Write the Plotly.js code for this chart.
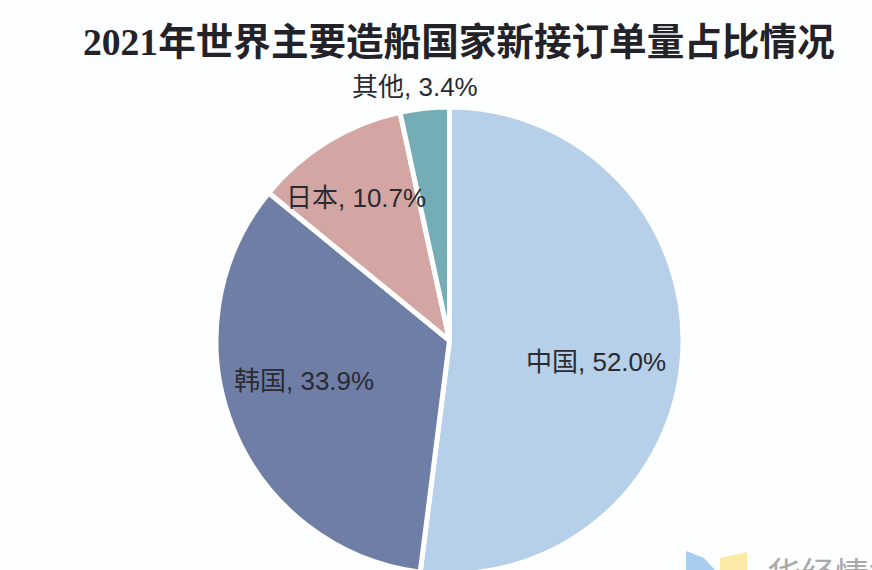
<!DOCTYPE html>
<html><head><meta charset="utf-8">
<script src="https://cdn.plot.ly/plotly-3.0.1.min.js"></script>
<style>html,body{margin:0;padding:0;width:872px;height:570px;overflow:hidden;background:#fdfeff}</style>
</head><body><div id="c"></div>
<script>
const categories=["中国","韩国","日本","其他"];
const shares=[52.0,33.9,10.7,3.4];
const colors=["#b5d0e8","#6e7ea6","#d3a6a3","#74adb5"];
const labelX=[596,303.5,356,414.5];
const labelY=[362,381,198,87];
const titleText="2021年世界主要造船国家新接订单量占比情况";
const sourceText="华经情报网";
const W=872,H=680,cx=449.5,cy=340.5,r=233.5;
const labelFont="Liberation Sans, Noto Sans CJK SC, sans-serif";
const annotations=categories.map((c,i)=>({
  text:c+", "+shares[i].toFixed(1)+"%",xref:"paper",yref:"paper",
  x:labelX[i]/W,y:1-labelY[i]/H,xanchor:"center",yanchor:"middle",showarrow:false,
  font:{family:labelFont,size:26,color:"#2a2a30"}
}));
annotations.push({text:titleText,xref:"paper",yref:"paper",x:459.5/W,y:1-42/H,xanchor:"center",yanchor:"middle",showarrow:false,
  font:{family:"Liberation Serif, Noto Sans CJK SC, serif",size:37.6,color:"#222228",weight:700}});
annotations.push({text:sourceText,xref:"paper",yref:"paper",x:765/W,y:1-572/H,xanchor:"left",yanchor:"middle",showarrow:false,
  font:{family:"Noto Sans CJK SC, sans-serif",size:34,color:"#a9a9a9"}});
const px=(x,y)=>(x/W).toFixed(4)+","+(1-y/H).toFixed(4);
const poly=(pts,fill)=>({type:"path",xref:"paper",yref:"paper",layer:"above",line:{width:0},fillcolor:fill,
  path:"M"+pts.map(p=>px(p[0],p[1])).join("L")+"Z"});
Plotly.newPlot("c",[{
  type:"pie",labels:categories,values:shares,sort:false,direction:"clockwise",rotation:0,
  marker:{colors:colors,line:{color:"#ffffff",width:5}},textinfo:"none",hoverinfo:"label+percent",showlegend:false,
  domain:{x:[(cx-r)/W,(cx+r)/W],y:[1-(cy+r)/H,1-(cy-r)/H]}
}],{
  width:W,height:H,margin:{l:0,r:0,t:0,b:0},paper_bgcolor:"#fdfeff",showlegend:false,
  annotations:annotations,
  shapes:[poly([[686,551],[704,558],[715,570],[686,570]],"#a9cdf0"),poly([[720,558],[747,552],[747,570],[720,570]],"#fbe9a6")]
},{displayModeBar:false,staticPlot:true});
</script></body></html>
